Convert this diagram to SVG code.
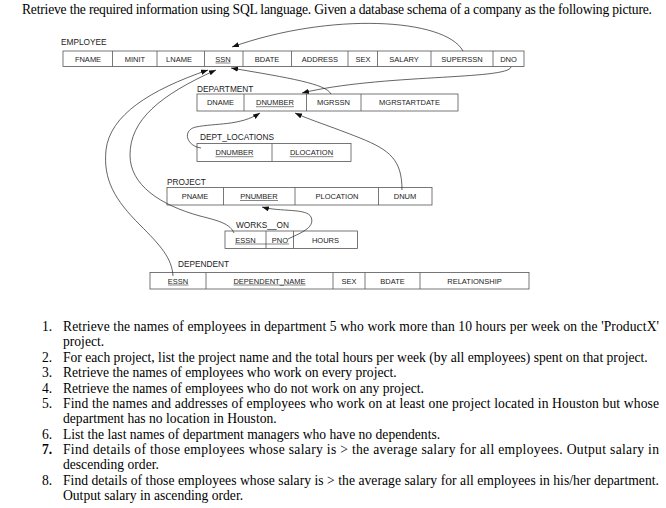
<svg xmlns="http://www.w3.org/2000/svg" width="666" height="508" viewBox="0 0 666 508">
<defs>
<marker id="arr" viewBox="0 0 8 6" refX="8" refY="3" markerWidth="7" markerHeight="5.5" markerUnits="userSpaceOnUse" orient="auto">
<path d="M0,0 L8,3 L0,6 z" fill="#111"/>
</marker>
</defs>
<style>
.t{font-family:"Liberation Serif","Times New Roman",serif;font-size:13.6px;fill:#000}
.lbl{font-family:"Liberation Sans",Arial,sans-serif;font-size:8.3px;fill:#222}
.c{font-family:"Liberation Sans",Arial,sans-serif;font-size:7.5px;fill:#222;text-anchor:middle}
.box{fill:#fff;stroke:#555;stroke-width:0.8}
.div{stroke:#555;stroke-width:0.8}
.ul{stroke:#333;stroke-width:0.6}
.con{fill:none;stroke:#222;stroke-width:0.7}
</style>
<rect width="666" height="508" fill="#fff"/>
<text class="t" x="22" y="14" textLength="630" lengthAdjust="spacing">Retrieve the required information using SQL language. Given a database schema of a company as the following picture.</text>

<g id="employee">
<text class="lbl" x="61" y="45">EMPLOYEE</text>
<rect class="box" x="63" y="51" width="461" height="15.5"/>
<path class="div" d="M112.5,51V66.5M157,51V66.5M204.5,51V66.5M243,51V66.5M291.5,51V66.5M348,51V66.5M377.5,51V66.5M431,51V66.5M493,51V66.5"/>
<text class="c" x="88" y="61.5">FNAME</text>
<text class="c" x="135" y="61.5">MINIT</text>
<text class="c" x="179" y="61.5">LNAME</text>
<text class="c" x="223" y="61.5">SSN</text>
<line class="ul" x1="215.5" y1="63" x2="230.5" y2="63"/>
<text class="c" x="267" y="61.5">BDATE</text>
<text class="c" x="320" y="61.5">ADDRESS</text>
<text class="c" x="363" y="61.5">SEX</text>
<text class="c" x="404" y="61.5">SALARY</text>
<text class="c" x="462" y="61.5">SUPERSSN</text>
<text class="c" x="508.5" y="61.5">DNO</text>
</g>

<g id="department">
<text class="lbl" x="197" y="91.5">DEPARTMENT</text>
<rect class="box" x="197" y="94" width="261" height="17"/>
<path class="div" d="M244,94V111M306.5,94V111M361,94V111"/>
<text class="c" x="220.5" y="105.2">DNAME</text>
<text class="c" x="275" y="105.2">DNUMBER</text>
<line class="ul" x1="256" y1="106.7" x2="294" y2="106.7"/>
<text class="c" x="333.5" y="105.2">MGRSSN</text>
<text class="c" x="409.5" y="105.2">MGRSTARTDATE</text>
</g>

<g id="dept_locations">
<text class="lbl" x="200" y="139.5">DEPT_LOCATIONS</text>
<rect class="box" x="197" y="143.5" width="154" height="18"/>
<path class="div" d="M272,143.5V161.5"/>
<text class="c" x="234.5" y="155.2">DNUMBER</text>
<line class="ul" x1="215.5" y1="156.7" x2="253.5" y2="156.7"/>
<text class="c" x="311.5" y="155.2">DLOCATION</text>
<line class="ul" x1="289.6" y1="156.7" x2="333.4" y2="156.7"/>
</g>

<g id="project">
<text class="lbl" x="167" y="184.5">PROJECT</text>
<rect class="box" x="167" y="187.5" width="265" height="17.5"/>
<path class="div" d="M223.5,187.5V205M295,187.5V205M378.5,187.5V205"/>
<text class="c" x="195" y="199">PNAME</text>
<text class="c" x="259" y="199">PNUMBER</text>
<line class="ul" x1="240" y1="200.5" x2="278" y2="200.5"/>
<text class="c" x="337" y="199">PLOCATION</text>
<text class="c" x="405" y="199">DNUM</text>
</g>

<g id="works_on">
<text class="lbl" x="236" y="227.5">WORKS__ON</text>
<rect class="box" x="225" y="231" width="132.5" height="17.5"/>
<path class="div" d="M266,231V248.5M293.5,231V248.5"/>
<text class="c" x="245.5" y="242.5">ESSN</text>
<text class="c" x="280" y="242.5">PNO</text>
<line class="ul" x1="235" y1="244" x2="289" y2="244"/>
<text class="c" x="325.5" y="242.5">HOURS</text>
</g>

<g id="dependent">
<text class="lbl" x="178" y="267">DEPENDENT</text>
<rect class="box" x="150" y="272.5" width="379" height="16.5"/>
<path class="div" d="M206,272.5V289M333,272.5V289M365,272.5V289M420,272.5V289"/>
<text class="c" x="178" y="283.5">ESSN</text>
<line class="ul" x1="168" y1="285" x2="188.5" y2="285"/>
<text class="c" x="269.5" y="283.5">DEPENDENT_NAME</text>
<line class="ul" x1="233.5" y1="285" x2="305.5" y2="285"/>
<text class="c" x="349" y="283.5">SEX</text>
<text class="c" x="392.5" y="283.5">BDATE</text>
<text class="c" x="474.5" y="283.5">RELATIONSHIP</text>
</g>

<g id="connectors">
<path class="con" marker-end="url(#arr)" d="M463,51 C445,18 330,12 232,47"/>
<path class="con" marker-end="url(#arr)" d="M511,67 C508,80 380,74 302,93"/>
<path class="con" marker-end="url(#arr)" d="M331,94 C326,84 290,78 231,68"/>
<path class="con" marker-end="url(#arr)" d="M201,148 C186,146 182,130 196,127 C215,123 240,126 260,113"/>
<path class="con" marker-end="url(#arr)" d="M402,190 C402,160 390,150 360,138 C330,126 310,120 295,113"/>
<path class="con" marker-end="url(#arr)" d="M288,239 C298,234 316,228 311,217 C307,208 280,212 262,207"/>
<path class="con" marker-end="url(#arr)" d="M234,233 C230,224 220,221 200,216 C160,205 130,185 130,155 C130,120 160,95 216,70"/>
<path class="con" marker-end="url(#arr)" d="M173,276 C172,258 160,245 140,225 C115,200 103,180 106,150 C110,115 150,90 208,70"/>
</g>

<g id="questions">
<text class="t" x="42" y="331">1.</text>
<text class="t" x="63" y="331" textLength="596" lengthAdjust="spacing">Retrieve the names of employees in department 5 who work more than 10 hours per week on the 'ProductX'</text>
<text class="t" x="63" y="346">project.</text>
<text class="t" x="42" y="362">2.</text>
<text class="t" x="63" y="362">For each project, list the project name and the total hours per week (by all employees) spent on that project.</text>
<text class="t" x="42" y="377">3.</text>
<text class="t" x="63" y="377">Retrieve the names of employees who work on every project.</text>
<text class="t" x="42" y="393">4.</text>
<text class="t" x="63" y="393">Retrieve the names of employees who do not work on any project.</text>
<text class="t" x="42" y="408">5.</text>
<text class="t" x="63" y="408" textLength="596" lengthAdjust="spacing">Find the names and addresses of employees who work on at least one project located in Houston but whose</text>
<text class="t" x="63" y="423">department has no location in Houston.</text>
<text class="t" x="42" y="439">6.</text>
<text class="t" x="63" y="439">List the last names of department managers who have no dependents.</text>
<text class="t" x="42" y="454" font-weight="bold">7.</text>
<text class="t" x="63" y="454" textLength="596" lengthAdjust="spacing">Find details of those employees whose salary is &gt; the average salary for all employees. Output salary in</text>
<text class="t" x="63" y="469">descending order.</text>
<text class="t" x="42" y="485">8.</text>
<text class="t" x="63" y="485" textLength="596" lengthAdjust="spacing">Find details of those employees whose salary is &gt; the average salary for all employees in his/her department.</text>
<text class="t" x="63" y="500">Output salary in ascending order.</text>
</g>
</svg>
